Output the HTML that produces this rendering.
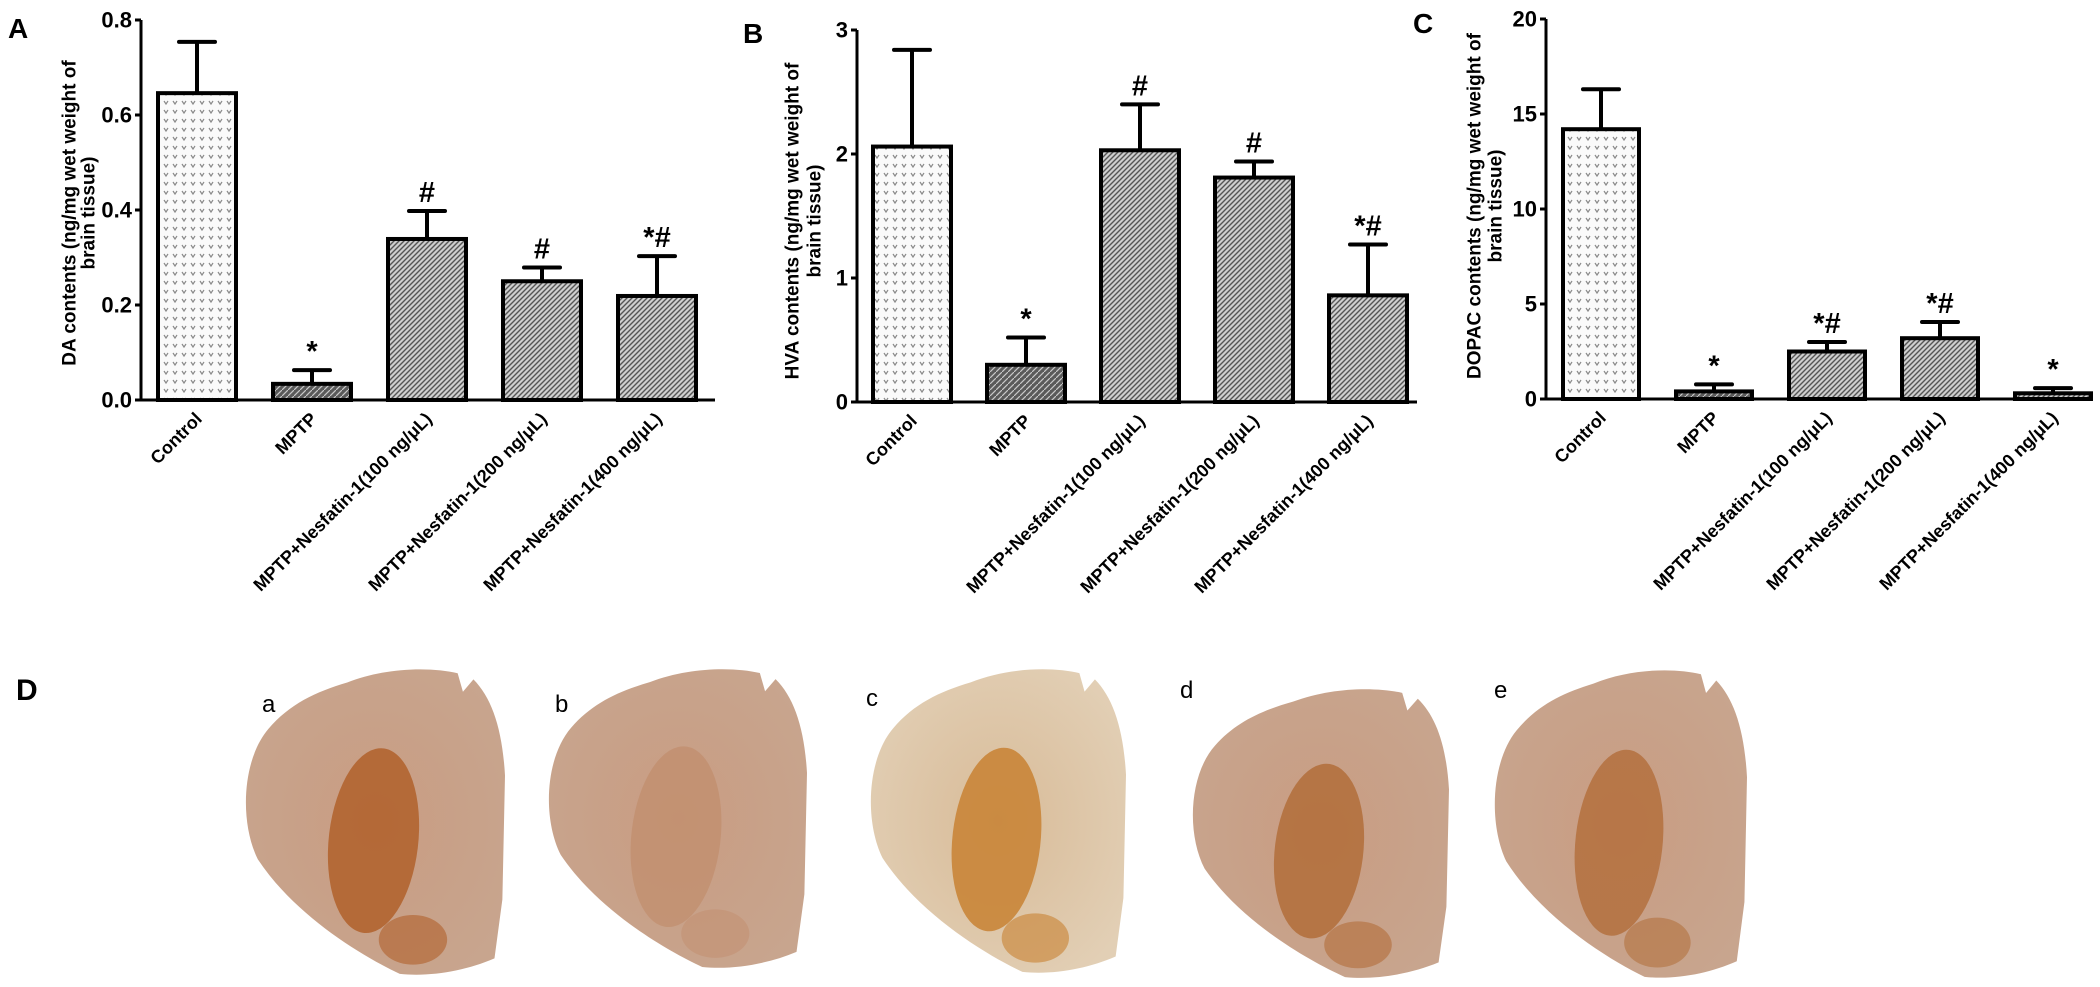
<!DOCTYPE html>
<html><head><meta charset="utf-8"><style>
html,body{margin:0;padding:0;background:#fff;}
svg{display:block;font-family:"Liberation Sans",Arial,sans-serif;}
</style></head><body>
<svg id="fig" width="2100" height="987" viewBox="0 0 2100 987" xmlns="http://www.w3.org/2000/svg">
<defs>
<pattern id="pDots" width="9" height="9" patternUnits="userSpaceOnUse"><rect width="9" height="9" fill="#fafafa"/><path d="M2,2 L4,5 L6,2" stroke="#8a8a8a" stroke-width="1.2" fill="none"/></pattern>
<pattern id="pDark" width="6" height="6" patternUnits="userSpaceOnUse"><rect width="6" height="6" fill="#5a5a5a"/><path d="M0,6 L6,0" stroke="#c8c8c8" stroke-width="1.2"/></pattern>
<pattern id="pHatch" width="5" height="5" patternUnits="userSpaceOnUse"><rect width="5" height="5" fill="#cfcfcf"/><path d="M0,5 L5,0 M-1,1 L1,-1 M4,6 L6,4" stroke="#555" stroke-width="1.4"/></pattern>
<radialGradient id="gTissue" cx="0.5" cy="0.5" r="0.6"><stop offset="0" stop-color="#c99c82"/><stop offset="1" stop-color="#c8a58e"/></radialGradient>
<radialGradient id="gTissueC" cx="0.5" cy="0.5" r="0.6"><stop offset="0" stop-color="#d8bb98"/><stop offset="1" stop-color="#e2cfb5"/></radialGradient>
</defs>
<g id="charts"></g>
<g id="photos"></g>
</svg>
<script>
// ---- data ----
const categories = ["Control","MPTP","MPTP+Nesfatin-1(100 ng/μL)","MPTP+Nesfatin-1(200 ng/μL)","MPTP+Nesfatin-1(400 ng/μL)"];
const daValues = [0.646, 0.034, 0.339, 0.250, 0.219];
const daSem = [0.108, 0.029, 0.059, 0.029, 0.084];
const daMarks = ["", "*", "#", "#", "*#"];
const daTicks = [0, 0.2, 0.4, 0.6, 0.8];
const daTickLabels = ["0.0", "0.2", "0.4", "0.6", "0.8"];
const hvaValues = [2.06, 0.30, 2.03, 1.81, 0.86];
const hvaSem = [0.78, 0.22, 0.37, 0.13, 0.41];
const hvaMarks = ["", "*", "#", "#", "*#"];
const hvaTicks = [0, 1, 2, 3];
const hvaTickLabels = ["0", "1", "2", "3"];
const dopacValues = [14.2, 0.4, 2.5, 3.2, 0.3];
const dopacSem = [2.1, 0.37, 0.5, 0.85, 0.27];
const dopacMarks = ["", "*", "*#", "*#", "*"];
const dopacTicks = [0, 5, 10, 15, 20];
const dopacTickLabels = ["0", "5", "10", "15", "20"];

const NS = "http://www.w3.org/2000/svg";
function mk(tag, attrs, parent, text) {
  const e = document.createElementNS(NS, tag);
  for (const k in attrs) e.setAttribute(k, attrs[k]);
  if (text !== undefined) e.textContent = text;
  parent.appendChild(e);
  return e;
}
const fills = ["url(#pDots)", "url(#pDark)", "url(#pHatch)", "url(#pHatch)", "url(#pHatch)"];

function drawPanel(p, values, sem, marks, ticks, tickLabels) {
  const root = document.getElementById("charts");
  const g = mk("g", {}, root);
  
  
  const yMax = ticks[ticks.length - 1];
  const y = v => p.y0 - (v / yMax) * (p.y0 - p.yTop);
  const x = i => p.cx0 + i * p.step;
  const L = mk("text", {x: p.letterX, y: p.letterY, "font-size": 28, "font-weight": "bold"}, g, p.letter);
  
  
  const t1 = mk("text", {x: p.tx1, y: p.ty, "font-size": 19, "font-weight": "bold", "text-anchor": "middle", "dominant-baseline": "central", transform: `rotate(-90 ${p.tx1} ${p.ty})`}, g, p.title1);
  
  
  const t2 = mk("text", {x: p.tx2, y: p.ty, "font-size": 19, "font-weight": "bold", "text-anchor": "middle", "dominant-baseline": "central", transform: `rotate(-90 ${p.tx2} ${p.ty})`}, g, "brain tissue)");
  
  
  values.forEach((v, i) => {
    const cx = x(i), top = y(v), et = y(v + sem[i]);
    const eb = mk("line", {x1: cx, y1: top, x2: cx, y2: et, stroke: "#000", "stroke-width": 4}, g);
    
    
    const cap = mk("line", {x1: cx - 18, y1: et, x2: cx + 18, y2: et, stroke: "#000", "stroke-width": 4, "stroke-linecap": "round"}, g);
    
    
    const r = mk("rect", {x: cx - p.bw / 2, y: top, width: p.bw, height: p.y0 - top, fill: fills[i], stroke: "#000", "stroke-width": 4}, g);
    
    
    if (marks[i]) {
      const m = mk("text", {x: cx, y: et - 9, "font-size": 29, "font-weight": "bold", "text-anchor": "middle"}, g, marks[i]);
      
      
    }
    const lx = cx + 6, ly = p.y0 + 20;
    const lab = mk("text", {x: lx, y: ly, "font-size": 18, "font-weight": "bold", "text-anchor": "end", transform: `rotate(-45 ${lx} ${ly})`}, g, categories[i]);
    
    
  });
  const ya = mk("line", {x1: p.ax, y1: p.yTop, x2: p.ax, y2: p.y0, stroke: "#000", "stroke-width": 3}, g);
  
  
  const xa = mk("line", {x1: p.ax, y1: p.y0, x2: p.xEnd, y2: p.y0, stroke: "#000", "stroke-width": 3}, g);
  
  
  ticks.forEach((tv, i) => {
    const ty = y(tv);
    const tk = mk("line", {x1: p.ax - 6, y1: ty, x2: p.ax, y2: ty, stroke: "#000", "stroke-width": 3}, g);
    
    
    const tl = mk("text", {x: p.ax - 9, y: ty, "font-size": 22, "font-weight": "bold", "text-anchor": "end", "dominant-baseline": "central"}, g, tickLabels[i]);
    
    
  });
}

drawPanel({name: "panel-a-da-chart", letter: "A", letterX: 8, letterY: 38, ax: 141, yTop: 20, y0: 400, xEnd: 715, cx0: 197, step: 115, bw: 78,
  tx1: 70, tx2: 89, ty: 213, title1: "DA contents (ng/mg wet weight of"}, daValues, daSem, daMarks, daTicks, daTickLabels);
drawPanel({name: "panel-b-hva-chart", letter: "B", letterX: 743, letterY: 43, ax: 857, yTop: 30, y0: 402, xEnd: 1417, cx0: 912, step: 114, bw: 78,
  tx1: 793, tx2: 815, ty: 221, title1: "HVA contents  (ng/mg wet weight of"}, hvaValues, hvaSem, hvaMarks, hvaTicks, hvaTickLabels);
drawPanel({name: "panel-c-dopac-chart", letter: "C", letterX: 1413, letterY: 33, ax: 1546, yTop: 19, y0: 399, xEnd: 2093, cx0: 1601, step: 113, bw: 76,
  tx1: 1475, tx2: 1496, ty: 206, title1: "DOPAC contents  (ng/mg wet weight of"}, dopacValues, dopacSem, dopacMarks, dopacTicks, dopacTickLabels);

// ---- panel D photos ----
const ph = document.getElementById("photos");
const D = mk("text", {x: 16, y: 700, "font-size": 30, "font-weight": "bold"}, ph, "D");


const slices = [
  {l: "a", lx: 262, ly: 712, x: 242, y: 667, w: 263, h: 310, tissue: "url(#gTissue)", core: "#b0602a", op: 0.85},
  {l: "b", lx: 555, ly: 712, x: 545, y: 667, w: 262, h: 303, tissue: "url(#gTissue)", core: "#c08a68", op: 0.6},
  {l: "c", lx: 866, ly: 706, x: 867, y: 667, w: 259, h: 308, tissue: "url(#gTissueC)", core: "#c98538", op: 0.9},
  {l: "d", lx: 1180, ly: 698, x: 1189, y: 687, w: 260, h: 293, tissue: "url(#gTissue)", core: "#b06a34", op: 0.8},
  {l: "e", lx: 1494, ly: 698, x: 1491, y: 668, w: 256, h: 312, tissue: "url(#gTissue)", core: "#b06a34", op: 0.75}
];
slices.forEach(s => {
  const g = mk("g", {transform: `translate(${s.x} ${s.y}) scale(${s.w} ${s.h})`}, ph);
  
  
  mk("path", {d: "M0.4,0.05 C0.55,0 0.72,0 0.82,0.02 L0.84,0.08 L0.88,0.04 C0.95,0.1 0.99,0.2 1,0.35 L0.99,0.75 L0.96,0.94 C0.85,0.98 0.72,1 0.6,0.99 C0.45,0.93 0.2,0.8 0.06,0.62 C-0.01,0.5 0.0,0.3 0.1,0.2 C0.18,0.12 0.28,0.08 0.4,0.05 Z", fill: s.tissue}, g);
  mk("ellipse", {cx: 0.5, cy: 0.56, rx: 0.17, ry: 0.3, fill: s.core, opacity: s.op, transform: "rotate(8 0.5 0.56)"}, g);
  mk("ellipse", {cx: 0.65, cy: 0.88, rx: 0.13, ry: 0.08, fill: s.core, opacity: s.op * 0.7}, g);
  const lt = mk("text", {x: s.lx, y: s.ly, "font-size": 24}, ph, s.l);
  
  
});
</script>
</body></html>
